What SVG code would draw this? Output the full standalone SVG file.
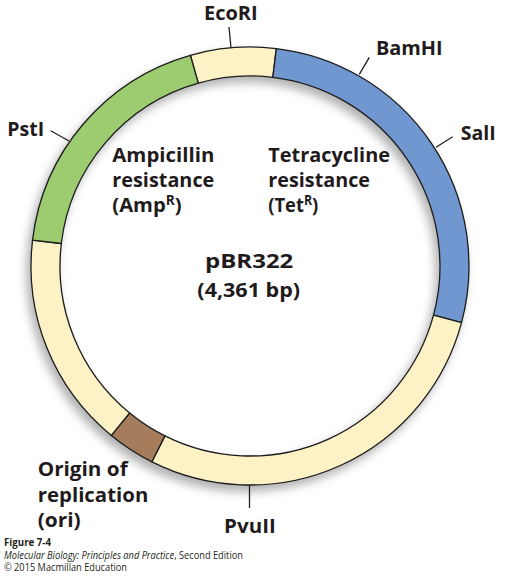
<svg xmlns="http://www.w3.org/2000/svg" width="505" height="577" viewBox="0 0 505 577">
<defs>
<style>
.seg{stroke:#1c1c1c;stroke-width:1.3;stroke-linejoin:round}
.yel{fill:#fdf2c6}
.blu{fill:#7197d1}
.grn{fill:#9dcb6f}
.brn{fill:#a57c5b}
.tick{stroke:#231f20;stroke-width:1.3;fill:none}
.lbl{font-family:"Open Sans","Noto Sans","Liberation Sans",sans-serif;font-weight:bold;font-size:20px;fill:#1f1b1c}
.mid{text-anchor:middle}
.cap{font-family:"Open Sans","Noto Sans","Liberation Sans",sans-serif;font-size:10.5px;fill:#231f20}
</style>
<filter id="shadow" x="-20%" y="-20%" width="140%" height="140%">
<feDropShadow dx="-4" dy="6" stdDeviation="5" flood-color="#000" flood-opacity="0.3"/>
</filter>
</defs>
<rect width="505" height="577" fill="#ffffff"/>

<g id="ring" filter="url(#shadow)">
<g id="seg-ecori"><path class="seg yel" d="M190.37,55.28 A219,219 0 0 1 276.31,48.58 L272.82,77.37 A190,190 0 0 0 198.26,83.18 Z"/></g>
<g id="seg-tet"><path class="seg blu" d="M276.31,48.58 A219,219 0 0 1 461.54,322.68 L433.52,315.17 A190,190 0 0 0 272.82,77.37 Z"/></g>
<g id="seg-pvu"><path class="seg yel" d="M461.54,322.68 A219,219 0 0 1 151.93,461.83 L164.92,435.90 A190,190 0 0 0 433.52,315.17 Z"/></g>
<g id="seg-ori"><path class="seg brn" d="M151.93,461.83 A219,219 0 0 1 111.29,435.46 L129.65,413.02 A190,190 0 0 0 164.92,435.90 Z"/></g>
<g id="seg-left"><path class="seg yel" d="M111.29,435.46 A219,219 0 0 1 32.53,240.07 L61.33,243.50 A190,190 0 0 0 129.65,413.02 Z"/></g>
<g id="seg-amp"><path class="seg grn" d="M32.53,240.07 A219,219 0 0 1 190.37,55.28 L198.26,83.18 A190,190 0 0 0 61.33,243.50 Z"/></g>
</g>

<g id="connectors">
<line class="tick" x1="231" y1="48" x2="229" y2="27"/>
<line class="tick" x1="359.3" y1="74.3" x2="369.3" y2="57.3"/>
<line class="tick" x1="436" y1="147.3" x2="452.7" y2="136.7"/>
<line class="tick" x1="69" y1="141" x2="50.7" y2="130.7"/>
<line class="tick" x1="249.5" y1="485" x2="249.5" y2="508"/>
</g>

<g id="label-ecori"><text class="lbl mid" x="230.8" y="19.5" font-size="19" textLength="53.7" lengthAdjust="spacingAndGlyphs">EcoRI</text></g>
<g id="label-bamhi"><text class="lbl mid" x="409.3" y="55" textLength="66.7" lengthAdjust="spacingAndGlyphs">BamHI</text></g>
<g id="label-sali"><text class="lbl mid" x="478.2" y="140" textLength="35" lengthAdjust="spacingAndGlyphs">SalI</text></g>
<g id="label-psti"><text class="lbl mid" x="25.8" y="135.5" textLength="37" lengthAdjust="spacingAndGlyphs">PstI</text></g>
<g id="label-pvuii"><text class="lbl mid" x="249.9" y="533" textLength="51.7" lengthAdjust="spacingAndGlyphs">PvuII</text></g>

<g id="label-amp">
<text class="lbl" x="112.3" y="161.7" textLength="102" lengthAdjust="spacingAndGlyphs">Ampicillin</text>
<text class="lbl" x="112.3" y="187" textLength="102" lengthAdjust="spacingAndGlyphs">resistance</text>
<text class="lbl" x="112.3" y="212.3" textLength="69.4" lengthAdjust="spacingAndGlyphs">(Amp<tspan font-size="13.5" dy="-7.5">R</tspan><tspan dy="7.5">)</tspan></text>
</g>
<g id="label-tet">
<text class="lbl" x="268.3" y="161.7" textLength="121.7" lengthAdjust="spacingAndGlyphs">Tetracycline</text>
<text class="lbl" x="268.3" y="187" textLength="101.7" lengthAdjust="spacingAndGlyphs">resistance</text>
<text class="lbl" x="268.3" y="212.3" textLength="50" lengthAdjust="spacingAndGlyphs">(Tet<tspan font-size="13.5" dy="-7.5">R</tspan><tspan dy="7.5">)</tspan></text>
</g>
<g id="label-plasmid">
<text class="lbl mid" x="249.2" y="267.7" font-size="22" textLength="88.3" lengthAdjust="spacingAndGlyphs">pBR322</text>
<text class="lbl mid" x="248.7" y="296.7" textLength="102.7" lengthAdjust="spacingAndGlyphs">(4,361 bp)</text>
</g>
<g id="label-ori">
<text class="lbl" x="37.7" y="475.7" textLength="90" lengthAdjust="spacingAndGlyphs">Origin of</text>
<text class="lbl" x="37.7" y="501.7" textLength="110.6" lengthAdjust="spacingAndGlyphs">replication</text>
<text class="lbl" x="37.7" y="526.7" textLength="43" lengthAdjust="spacingAndGlyphs">(ori)</text>
</g>

<g id="caption">
<text class="cap" x="4" y="546" font-weight="bold" textLength="47" lengthAdjust="spacingAndGlyphs">Figure 7-4</text>
<text class="cap" x="4" y="558.5" textLength="239" lengthAdjust="spacingAndGlyphs"><tspan font-style="italic">Molecular Biology: Principles and Practice</tspan>, Second Edition</text>
<text class="cap" x="4" y="571" textLength="123" lengthAdjust="spacingAndGlyphs">© 2015 Macmillan Education</text>
</g>
</svg>
